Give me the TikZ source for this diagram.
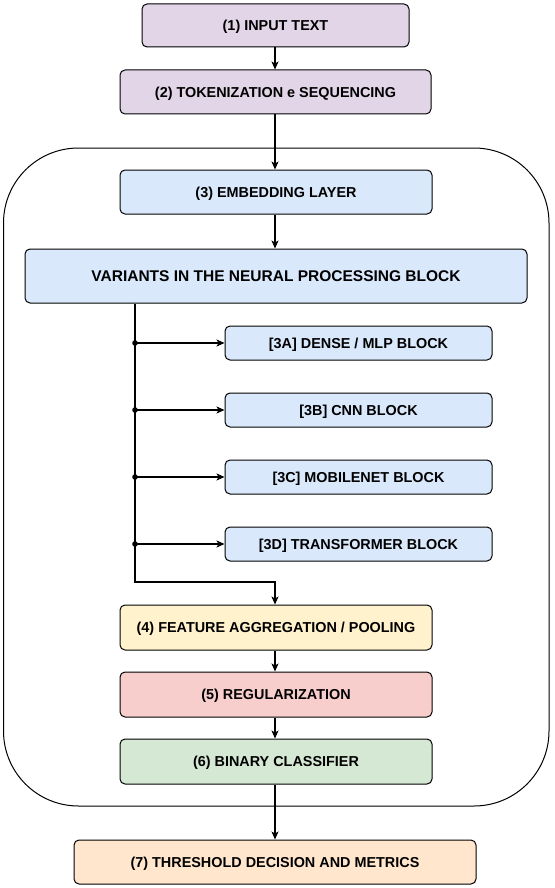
\documentclass[tikz,border=0pt]{standalone}
\usepackage{fontspec}
\setmainfont{Liberation Sans}
\usetikzlibrary{arrows.meta,calc}
\definecolor{cpurple}{HTML}{E1D5E7}
\definecolor{cblue}{HTML}{DAE8FC}
\definecolor{cyellow}{HTML}{FFF2CC}
\definecolor{cred}{HTML}{F8CECC}
\definecolor{cgreen}{HTML}{D5E8D4}
\definecolor{corange}{HTML}{FFE6CC}
\begin{document}
\begin{tikzpicture}[x=1pt,y=-1pt,
  box/.style={draw=black,line width=1pt,rounded corners=5pt,align=center,inner sep=0pt,
    text height=10.4pt,text depth=0pt,
    font=\fontsize{14.4}{16}\selectfont\bfseries},
  arr/.style={line width=1.1pt,-{Stealth[length=8pt,width=7pt,inset=2pt]}},
  ln/.style={line width=1.1pt}]
\useasboundingbox (0,0) rectangle (554,888);
\node[draw=black,line width=1pt,rounded corners=75pt,minimum width=545.5pt,minimum height=658pt,inner sep=0pt] (cont) at (276.25,477) {};
\node[box,fill=cpurple,minimum width=267pt,minimum height=43pt] (b1) at (275.5,25.5) {(1) INPUT TEXT};
\node[box,fill=cpurple,minimum width=311pt,minimum height=44pt] (b2) at (275.5,92) {(2) TOKENIZATION e SEQUENCING};
\node[box,fill=cblue,minimum width=312pt,minimum height=44pt] (b3) at (276,192) {(3) EMBEDDING LAYER};
\node[box,fill=cblue,minimum width=502pt,minimum height=54pt,text height=11.2pt,font=\fontsize{15.5}{17}\selectfont\bfseries] (var) at (276,276) {VARIANTS IN THE NEURAL PROCESSING BLOCK};
\node[box,fill=cblue,minimum width=267pt,minimum height=34pt] (a) at (358.5,343) {[3A] DENSE / MLP BLOCK};
\node[box,fill=cblue,minimum width=267pt,minimum height=34pt] (b) at (358.5,410) {[3B] CNN BLOCK};
\node[box,fill=cblue,minimum width=267pt,minimum height=34pt] (c) at (358.5,477) {[3C] MOBILENET BLOCK};
\node[box,fill=cblue,minimum width=267pt,minimum height=34pt] (d) at (358.5,544) {[3D] TRANSFORMER BLOCK};
\node[box,fill=cyellow,minimum width=312pt,minimum height=45pt] (b4) at (276,627.5) {(4) FEATURE AGGREGATION / POOLING};
\node[box,fill=cred,minimum width=312pt,minimum height=45pt] (b5) at (276,694.5) {(5) REGULARIZATION};
\node[box,fill=cgreen,minimum width=312pt,minimum height=45pt] (b6) at (276,761.5) {(6) BINARY CLASSIFIER};
\node[box,fill=corange,minimum width=402pt,minimum height=44pt] (b7) at (275,862) {(7) THRESHOLD DECISION AND METRICS};
\coordinate (turn) at (135,582);
\coordinate (colx) at (275,0);
\draw[arr] (b1.south -| colx) -- (b2.north -| colx);
\draw[arr] (b2.south -| colx) -- (b3.north -| colx);
\draw[arr] (b3.south -| colx) -- (var.north -| colx);
\draw[arr] (var.south -| turn) -- (turn) -| (b4.north -| colx);
\draw[arr] (b4.south -| colx) -- (b5.north -| colx);
\draw[arr] (b5.south -| colx) -- (b6.north -| colx);
\draw[arr] (b6.south -| colx) -- (b7.north -| colx);
\foreach \n in {a,b,c,d}{
  \fill (turn |- \n.west) circle (2.8pt);
  \draw[arr] (turn |- \n.west) -- (\n.west);
}
\end{tikzpicture}
\end{document}
